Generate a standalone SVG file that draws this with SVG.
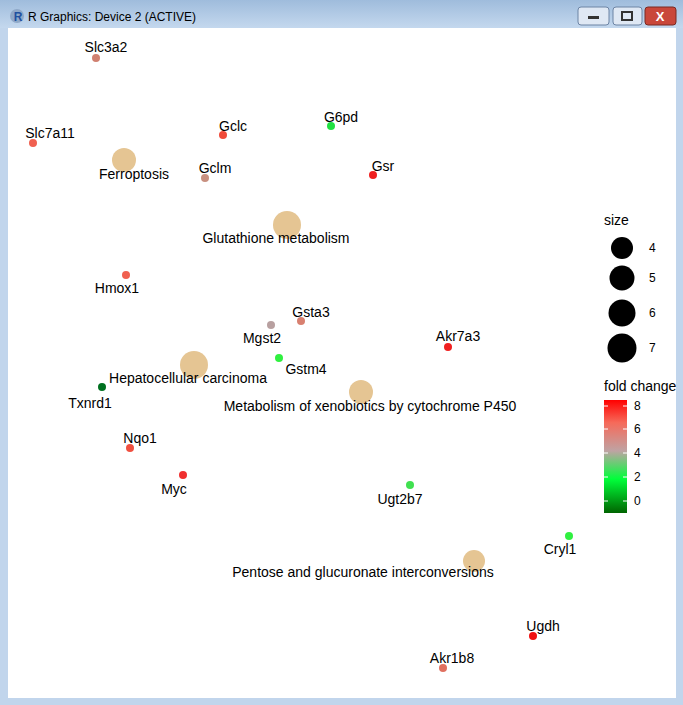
<svg xmlns="http://www.w3.org/2000/svg" width="683" height="705" viewBox="0 0 683 705">
<defs>
<linearGradient id="fc" x1="0" y1="1" x2="0" y2="0">
<stop offset="0" stop-color="#006400"/><stop offset="0.3" stop-color="#00ff3a"/><stop offset="0.55" stop-color="#bfa3a3"/><stop offset="0.8" stop-color="#f66a5a"/><stop offset="1" stop-color="#ff0000"/>
</linearGradient>
<linearGradient id="tb" x1="0" y1="0" x2="0" y2="1"><stop offset="0" stop-color="#9fbcdc"/><stop offset="1" stop-color="#c4d8ee"/></linearGradient>
</defs>
<style>
text{font-family:"Liberation Sans",Arial,sans-serif;font-size:14px;fill:#000;text-anchor:middle}
.p{fill:#e5c593}
.lg{font-size:12px;text-anchor:start}
.lt{font-size:14px;text-anchor:start}
</style>
<rect width="683" height="705" fill="#c1d5ec"/>
<rect width="683" height="28" fill="url(#tb)"/>
<circle cx="17" cy="16" r="7" fill="#8fa8c8"/>
<text x="18" y="21" style="font-size:12px;font-weight:bold;fill:#2050a0">R</text>
<text x="28" y="21" style="font-size:12px;text-anchor:start">R Graphics: Device 2 (ACTIVE)</text>
<rect x="578" y="7" width="31" height="18" rx="3" fill="#dfe8f4" stroke="#6d84a4"/>
<rect x="588" y="16" width="11" height="3" fill="#333"/>
<rect x="613" y="7" width="29" height="18" rx="3" fill="#dfe8f4" stroke="#6d84a4"/>
<rect x="622" y="12" width="10" height="8" fill="none" stroke="#333" stroke-width="2"/>
<rect x="645" y="7" width="31" height="18" rx="3" fill="#c9473a" stroke="#7a2a22"/>
<text x="660" y="21" style="font-size:13px;font-weight:bold;fill:#fff">X</text>
<rect x="8" y="28" width="668" height="670" fill="#fff"/>
<g id="connectors"/>
<g id="pathways">
<g id="Ferroptosis"><circle class="p" cx="124" cy="160" r="12"/><text x="134" y="179">Ferroptosis</text></g>
<g id="Glutathione"><circle class="p" cx="287" cy="225" r="14"/><text x="276" y="243">Glutathione metabolism</text></g>
<g id="HCC"><circle class="p" cx="194" cy="365" r="14"/><text x="188" y="383">Hepatocellular carcinoma</text></g>
<g id="Xeno"><circle class="p" cx="361" cy="392" r="12"/><text x="370" y="411">Metabolism of xenobiotics by cytochrome P450</text></g>
<g id="Pentose"><circle class="p" cx="474" cy="561" r="11"/><text x="363" y="577">Pentose and glucuronate interconversions</text></g>
</g>
<g id="genes">
<g id="Slc3a2"><circle cx="96" cy="58" r="4" fill="#d08070"/><text x="106" y="52">Slc3a2</text></g>
<g id="Slc7a11"><circle cx="33" cy="143" r="4" fill="#f06050"/><text x="50" y="138">Slc7a11</text></g>
<g id="Gclc"><circle cx="223" cy="135" r="4" fill="#f04b3a"/><text x="233" y="131">Gclc</text></g>
<g id="G6pd"><circle cx="331" cy="126" r="4" fill="#20e040"/><text x="341" y="122">G6pd</text></g>
<g id="Gsr"><circle cx="373" cy="175" r="4" fill="#f02020"/><text x="383" y="171">Gsr</text></g>
<g id="Gclm"><circle cx="205" cy="178" r="4" fill="#c89080"/><text x="215" y="173">Gclm</text></g>
<g id="Hmox1"><circle cx="126" cy="275" r="4" fill="#f06050"/><text x="117" y="293">Hmox1</text></g>
<g id="Gsta3"><circle cx="301" cy="321" r="4" fill="#d88070"/><text x="311" y="317">Gsta3</text></g>
<g id="Mgst2"><circle cx="271" cy="325" r="4" fill="#b8a0a0"/><text x="262" y="343">Mgst2</text></g>
<g id="Akr7a3"><circle cx="448" cy="347" r="4" fill="#f02020"/><text x="458" y="341">Akr7a3</text></g>
<g id="Gstm4"><circle cx="279" cy="358" r="4" fill="#30f040"/><text x="306" y="374">Gstm4</text></g>
<g id="Txnrd1"><circle cx="102" cy="387" r="4" fill="#007020"/><text x="90" y="408">Txnrd1</text></g>
<g id="Nqo1"><circle cx="130" cy="448" r="4" fill="#f05040"/><text x="140" y="443">Nqo1</text></g>
<g id="Myc"><circle cx="183" cy="475" r="4" fill="#f03030"/><text x="174" y="494">Myc</text></g>
<g id="Ugt2b7"><circle cx="410" cy="485" r="4" fill="#40e050"/><text x="400" y="504">Ugt2b7</text></g>
<g id="Cryl1"><circle cx="569" cy="536" r="4" fill="#30f040"/><text x="560" y="554">Cryl1</text></g>
<g id="Ugdh"><circle cx="533" cy="636" r="4" fill="#f01010"/><text x="543" y="631">Ugdh</text></g>
<g id="Akr1b8"><circle cx="443" cy="668" r="4" fill="#e07060"/><text x="452" y="663">Akr1b8</text></g>
</g>
<g id="legend">
<text class="lt" x="604" y="225">size</text>
<circle cx="622" cy="248" r="11"/><text class="lg" x="649" y="252">4</text>
<circle cx="622" cy="278" r="12.5"/><text class="lg" x="649" y="282">5</text>
<circle cx="622" cy="313" r="13.5"/><text class="lg" x="649" y="317">6</text>
<circle cx="622" cy="348" r="14.5"/><text class="lg" x="649" y="352">7</text>
<text class="lt" x="604" y="391">fold change</text>
<rect x="604" y="400" width="23" height="113" fill="url(#fc)"/>
<g stroke="#fff" stroke-width="1">
<line x1="604" y1="406" x2="608" y2="406"/><line x1="623" y1="406" x2="627" y2="406"/>
<line x1="604" y1="429" x2="608" y2="429"/><line x1="623" y1="429" x2="627" y2="429"/>
<line x1="604" y1="453" x2="608" y2="453"/><line x1="623" y1="453" x2="627" y2="453"/>
<line x1="604" y1="477" x2="608" y2="477"/><line x1="623" y1="477" x2="627" y2="477"/>
<line x1="604" y1="501" x2="608" y2="501"/><line x1="623" y1="501" x2="627" y2="501"/>
</g>
<text class="lg" x="634" y="410">8</text>
<text class="lg" x="634" y="433">6</text>
<text class="lg" x="634" y="457">4</text>
<text class="lg" x="634" y="481">2</text>
<text class="lg" x="634" y="505">0</text>
</g>
</svg>
